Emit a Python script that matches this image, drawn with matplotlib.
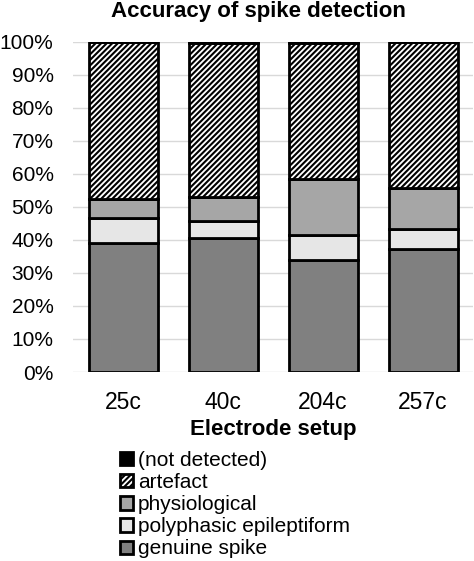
import matplotlib.pyplot as plt
from matplotlib.ticker import PercentFormatter

plt.rcParams['font.family'] = ['Liberation Sans', 'DejaVu Sans']
plt.rcParams['hatch.linewidth'] = 1.5

setups = ['25c', '40c', '204c', '257c']
genuine = [39.1, 40.5, 33.9, 37.2]
polyphasic = [7.6, 5.3, 7.7, 6.0]
physiological = [5.7, 7.3, 16.8, 12.5]
artefact = [47.5, 46.5, 41.0, 44.2]
not_detected = [0.1, 0.4, 0.6, 0.1]

series = [
    ('genuine spike', genuine, '#808080', None),
    ('polyphasic epileptiform', polyphasic, '#e6e6e6', None),
    ('physiological', physiological, '#a6a6a6', None),
    ('artefact', artefact, 'white', '//////'),
    ('(not detected)', not_detected, 'black', None),
]

fig = plt.figure(figsize=(4.74, 5.61), dpi=100)
ax = fig.add_axes([73/474, 189/561, 400/474, 330.5/561])

x = range(len(setups))
bottom = [0] * len(setups)
handles = []
for name, vals, color, hatch in series:
    b = ax.bar(x, vals, 0.69, bottom=bottom, color=color, edgecolor='black',
               linewidth=2, hatch=hatch, label=name, zorder=3)
    handles.append(b)
    bottom = [a + v for a, v in zip(bottom, vals)]

ax.set_xlim(-0.5, 3.5)
ax.set_ylim(0, 100)
ax.set_yticks(range(0, 101, 10))
ax.yaxis.set_major_formatter(PercentFormatter(decimals=0))
ax.set_xticks(list(x))
ax.set_xticklabels(setups)
ax.tick_params(length=0, labelsize=16.5)
ax.tick_params(axis='y', labelsize=15, pad=14)
ax.tick_params(axis='x', pad=14)
ax.grid(axis='y', color='#d9d9d9', linewidth=1, zorder=0)
for s in ax.spines.values():
    s.set_visible(False)

ax.set_xlabel('Electrode setup', fontsize=16, fontweight='bold', labelpad=3)
fig.text(258/474, 1 - 11/561, 'Accuracy of spike detection', ha='center', va='center',
         fontsize=16, fontweight='bold')

fig.legend(handles[::-1], [h.get_label() for h in handles[::-1]],
           loc='upper left', bbox_to_anchor=(120/474, 1 - 451/561),
           frameon=False, fontsize=15, handlelength=0.6, handleheight=0.6,
           handletextpad=0.25, labelspacing=0.15, borderaxespad=0, borderpad=0)

fig.savefig('out.png', dpi=100)
